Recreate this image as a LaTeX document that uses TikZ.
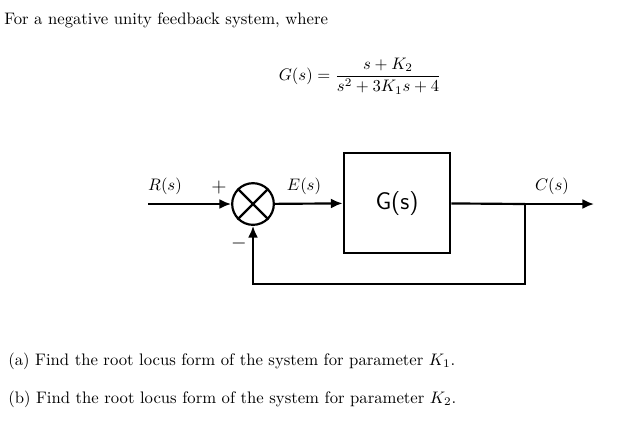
\documentclass[tikz,border=0pt]{standalone}
\usetikzlibrary{arrows.meta}
\begin{document}
\begin{tikzpicture}[x=0.6pt,y=-0.6pt,
  wire/.style={line width=1.3pt},
  arr/.style={wire,-{Latex[length=7pt,width=6pt]}},
  lbl/.style={font=\itshape\bfseries}]
\useasboundingbox (0,0) rectangle (625,427);
\node[anchor=west,inner sep=0] (t1) at (4,20) {For a negative unity feedback system, where};
\node[inner sep=0] (g) at (360,76) {$G(s)=\displaystyle\frac{s+K_2}{s^2+3K_1s+4}$};
\node[draw,circle,line width=1.3pt,minimum size=25pt,inner sep=0] (sum) at (253,204) {};
\draw[line width=1.3pt] (sum.north west)--(sum.south east) (sum.north east)--(sum.south west);
\node[draw,line width=1.3pt,minimum width=64pt,minimum height=60pt] (G) at (397,203) {\sffamily\Large G(s)};
\coordinate (in) at (148,204);
\coordinate (br) at (525,204);
\coordinate (out) at (594,204);
\coordinate (fb) at (525,284);
\draw[arr] (in) -- (sum);
\draw[arr] (sum) -- (G);
\draw[wire] (G) -- (br);
\draw[arr] (br) -- (out);
\draw[arr] (br) -- (fb) -| (sum.south);
\node[lbl] (R) at (165,186) {$R(s)$};
\node (p) at (219,187) {\large$+$};
\node (m) at (239,243) {\large$-$};
\node (E) at (304,186) {$E(s)$};
\node (C) at (552,186) {$C(s)$};
\node[anchor=west,inner sep=0] (a) at (8,361) {(a) Find the root locus form of the system for parameter $K_1$.};
\node[anchor=west,inner sep=0] (b) at (8,399) {(b) Find the root locus form of the system for parameter $K_2$.};
\end{tikzpicture}
\end{document}
